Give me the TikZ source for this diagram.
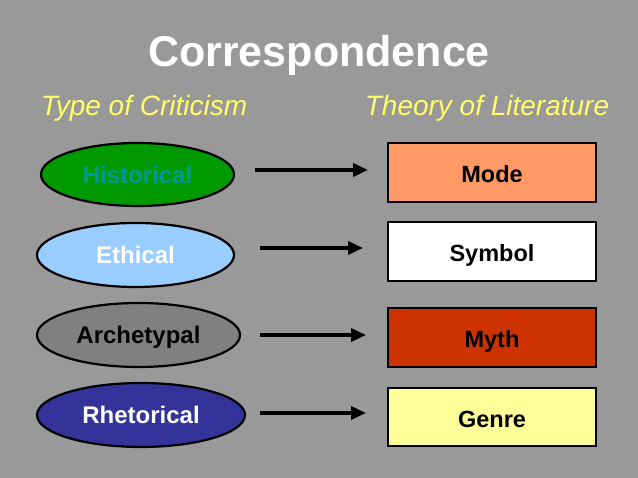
\documentclass[tikz,border=0pt]{standalone}
\usepackage{fontspec}
\setmainfont{Liberation Sans}
\usetikzlibrary{arrows.meta,shapes.geometric}
\definecolor{bg}{HTML}{999999}
\definecolor{ttl}{HTML}{FFFF66}
\definecolor{histfill}{HTML}{009900}
\definecolor{histtext}{HTML}{009999}
\definecolor{ethfill}{HTML}{99CCFF}
\definecolor{arcfill}{HTML}{808080}
\definecolor{rhefill}{HTML}{333399}
\definecolor{modefill}{HTML}{FF9966}
\definecolor{mythfill}{HTML}{CC3300}
\definecolor{genrefill}{HTML}{FFFF99}
\tikzset{
  crit/.style={ellipse, draw=black, line width=2.2pt, inner sep=0pt,
    text height=18pt, text depth=0pt,
    font=\fontsize{24}{26}\selectfont\bfseries},
  theory/.style={rectangle, draw=black, line width=2.2pt, inner sep=0pt,
    minimum width=208pt, minimum height=59pt,
    text height=21pt, text depth=0pt,
    font=\fontsize{23.5}{26}\selectfont\bfseries},
  corr/.style={line width=3.6pt, -{Triangle[length=15pt,width=13pt]}},
  head/.style={text=ttl, font=\fontsize{28}{30}\selectfont\itshape}
}
\begin{document}
\begin{tikzpicture}[x=1pt,y=1pt]
\fill[bg] (0,0) rectangle (638,478);
\useasboundingbox (0,0) rectangle (638,478);
\node[text=white, font=\fontsize{43}{46}\selectfont\bfseries] (title) at (319,423) {Correspondence};
\node[head] (h1) at (144,370) {Type of Criticism};
\node[head] (h2) at (487,370) {Theory of Literature};
% ellipses
\node[crit, fill=histfill, text=histtext, minimum width=193pt, minimum height=63pt] (hist) at (137.5,303.5) {Historical};
\node[crit, fill=ethfill, text=white, minimum width=197pt, minimum height=64pt] (eth) at (135.5,223) {Ethical};
\node[crit, fill=arcfill, text=black, minimum width=203pt, minimum height=64pt] (arc) at (138.5,143) {Archetypal};
\node[crit, fill=rhefill, text=white, minimum width=208pt, minimum height=64pt] (rhe) at (141,63) {Rhetorical};
% boxes
\node[theory, fill=modefill] (mode) at (492,305.5) {Mode};
\node[theory, fill=white] (sym) at (492,226.5) {Symbol};
\node[theory, fill=mythfill] (myth) at (492,140.5) {Myth};
\node[theory, fill=genrefill, minimum height=58pt] (genre) at (492,61) {Genre};
% arrows
\coordinate (a1s) at (255,308); \coordinate (a1e) at (368,308);
\coordinate (a2s) at (260,230); \coordinate (a2e) at (363,230);
\coordinate (a3s) at (260,143); \coordinate (a3e) at (366,143);
\coordinate (a4s) at (260,65);  \coordinate (a4e) at (366,65);
\draw[corr] (a1s) -- (a1e);
\draw[corr] (a2s) -- (a2e);
\draw[corr] (a3s) -- (a3e);
\draw[corr] (a4s) -- (a4e);
\end{tikzpicture}
\end{document}
